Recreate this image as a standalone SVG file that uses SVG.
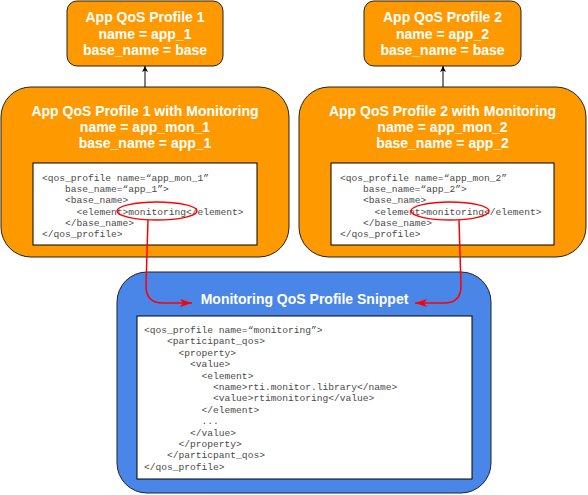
<svg xmlns="http://www.w3.org/2000/svg" width="588" height="495" viewBox="0 0 588 495">
<style>
.orange{fill:#ff9900;stroke:#222;stroke-width:1}
.blue{fill:#4a86e8;stroke:#222;stroke-width:1}
.code{fill:#fff;stroke:#000;stroke-width:1}
.t{font-family:"Liberation Sans",Arial,sans-serif;font-weight:bold;font-size:14px;fill:#fff;text-anchor:middle}
.c{font-family:"Liberation Mono","Courier New",monospace;font-size:9.6px;fill:#4a4a4a;white-space:pre}
.red{fill:none;stroke:#ff0000;stroke-width:1.5}
.blk{fill:none;stroke:#000;stroke-width:1}
</style>
<defs>
<marker id="ab" markerUnits="userSpaceOnUse" markerWidth="6" markerHeight="8" refX="6" refY="3" orient="auto" viewBox="0 0 6 6">
<path d="M0,0 L6,3 L0,6 L1.5,3 Z" fill="#000"/>
</marker>
<marker id="ar" markerUnits="userSpaceOnUse" markerWidth="12" markerHeight="8" refX="12" refY="4" orient="auto" viewBox="0 0 12 8">
<path d="M0,0 L12,4 L0,8 L3,4 Z" fill="#ff0000"/>
</marker>
</defs>
<g id="app1">
<rect class="orange" x="67" y="1" width="156" height="65" rx="10"/>
<text class="t" x="145" y="22">App QoS Profile 1</text>
<text class="t" x="145" y="38.5">name = app_1</text>
<text class="t" x="145" y="55">base_name = base</text>
</g>
<g id="app2">
<rect class="orange" x="364" y="1" width="157" height="65" rx="10"/>
<text class="t" x="442.5" y="22">App QoS Profile 2</text>
<text class="t" x="442.5" y="38.5">name = app_2</text>
<text class="t" x="442.5" y="55">base_name = base</text>
</g>
<g id="appmon1">
<rect class="orange" x="1" y="87" width="288" height="170" rx="30"/>
<text class="t" x="145" y="116">App QoS Profile 1 with Monitoring</text>
<text class="t" x="145" y="132">name = app_mon_1</text>
<text class="t" x="145" y="148">base_name = app_1</text>
<rect class="code" x="33" y="163" width="224" height="82"/>
<text class="c" x="42" y="181">&lt;qos_profile name=“app_mon_1”</text>
<text class="c" x="42" y="192.2">    base_name=“app_1”&gt;</text>
<text class="c" x="42" y="203.4">    &lt;base_name&gt;</text>
<text class="c" x="42" y="214.6">      &lt;element&gt;monitoring&lt;/element&gt;</text>
<text class="c" x="42" y="225.8">    &lt;/base_name&gt;</text>
<text class="c" x="42" y="237">&lt;/qos_profile&gt;</text>
<ellipse class="red" cx="157" cy="211" rx="40" ry="9"/>
</g>
<g id="appmon2">
<rect class="orange" x="299" y="87" width="287" height="170" rx="30"/>
<text class="t" x="442.5" y="116">App QoS Profile 2 with Monitoring</text>
<text class="t" x="442.5" y="132">name = app_mon_2</text>
<text class="t" x="442.5" y="148">base_name = app_2</text>
<rect class="code" x="331" y="163" width="223" height="82"/>
<text class="c" x="340" y="181">&lt;qos_profile name=“app_mon_2”</text>
<text class="c" x="340" y="192.2">    base_name=“app_2”&gt;</text>
<text class="c" x="340" y="203.4">    &lt;base_name&gt;</text>
<text class="c" x="340" y="214.6">      &lt;element&gt;monitoring&lt;/element&gt;</text>
<text class="c" x="340" y="225.8">    &lt;/base_name&gt;</text>
<text class="c" x="340" y="237">&lt;/qos_profile&gt;</text>
<ellipse class="red" cx="450" cy="211" rx="39" ry="9"/>
</g>
<g id="monitoring">
<rect class="blue" x="117" y="272" width="374" height="221" rx="30"/>
<text class="t" x="304.5" y="303.5">Monitoring QoS Profile Snippet</text>
<rect class="code" x="137" y="316" width="335" height="163"/>
<text class="c" x="144" y="333">&lt;qos_profile name=“monitoring”&gt;</text>
<text class="c" x="144" y="344.4">    &lt;participant_qos&gt;</text>
<text class="c" x="144" y="355.8">      &lt;property&gt;</text>
<text class="c" x="144" y="367.2">        &lt;value&gt;</text>
<text class="c" x="144" y="378.6">          &lt;element&gt;</text>
<text class="c" x="144" y="390">            &lt;name&gt;rti.monitor.library&lt;/name&gt;</text>
<text class="c" x="144" y="401.4">            &lt;value&gt;rtimonitoring&lt;/value&gt;</text>
<text class="c" x="144" y="412.8">          &lt;/element&gt;</text>
<text class="c" x="144" y="424.2">          ...</text>
<text class="c" x="144" y="435.6">        &lt;/value&gt;</text>
<text class="c" x="144" y="447">      &lt;/property&gt;</text>
<text class="c" x="144" y="458.4">    &lt;/particpant_qos&gt;</text>
<text class="c" x="144" y="469.8">&lt;/qos_profile&gt;</text>
</g>
<g id="connectors">
<path class="blk" d="M145,87 L145,66" marker-end="url(#ab)"/>
<path class="blk" d="M443,87 L443,66" marker-end="url(#ab)"/>
<path class="red" d="M148,220 L146,286 Q146,303 163,303 L192,303" marker-end="url(#ar)"/>
<path class="red" d="M459,220 L461,286 Q461,303 444,303 L415,303" marker-end="url(#ar)"/>
</g>
</svg>
